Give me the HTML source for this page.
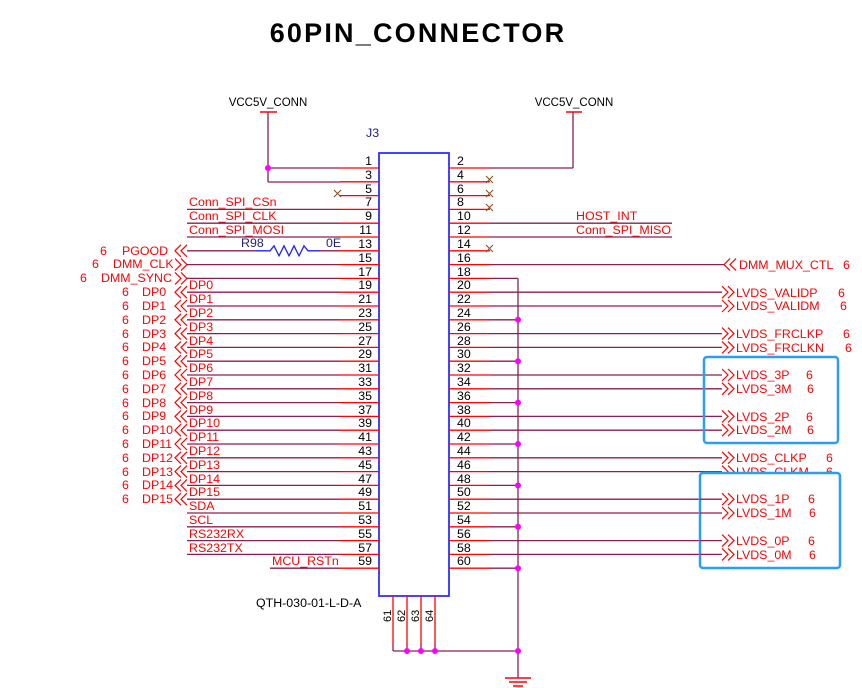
<!DOCTYPE html>
<html><head><meta charset="utf-8"><style>
html,body{margin:0;padding:0;background:#fff;}
svg{display:block;font-family:"Liberation Sans",Arial,sans-serif;}
.r{fill:#ff0000;font-size:12.4px;}
.k{fill:#000;font-size:12.4px;}
.w{stroke:#8a2050;stroke-width:1.3;fill:none;}
.p{stroke:#ff0000;stroke-width:1.3;fill:none;}
.c{stroke:#ff0000;stroke-width:1.2;fill:none;}
.x{stroke:#8a4a20;stroke-width:1;}
.d{fill:#ff00ff;}
</style></head><body>
<svg width="862" height="688" viewBox="0 0 862 688">
<text x="418" y="42" text-anchor="middle" style="font-size:27px;font-weight:bold;letter-spacing:2.2px" fill="#000">60PIN_CONNECTOR</text>

<!-- VCC left -->
<text x="268" y="106" text-anchor="middle" class="k" style="font-size:11.5px">VCC5V_CONN</text>
<line x1="260" y1="112" x2="277" y2="112" stroke="#ff0000" stroke-width="1.5"/>
<line x1="268" y1="112" x2="268" y2="182" class="w"/>
<line x1="268" y1="182" x2="340" y2="182" class="w"/>
<line x1="268" y1="168" x2="340" y2="168" class="w"/>
<circle cx="268" cy="168" r="3" class="d"/>
<!-- VCC right -->
<text x="574" y="106" text-anchor="middle" class="k" style="font-size:11.5px">VCC5V_CONN</text>
<line x1="566" y1="112" x2="582" y2="112" stroke="#ff0000" stroke-width="1.5"/>
<line x1="573" y1="112" x2="573" y2="168" class="w"/>
<line x1="490" y1="168" x2="573" y2="168" class="w"/>

<text x="366" y="137" class="k" style="fill:#202080">J3</text>
<rect x="379" y="153" width="70" height="443" fill="none" stroke="#3030ff" stroke-width="1.8"/>

<!-- pin stubs -->
<g class="p">
<path d="M340 168H379M340 181.8H379M340 195.6H379M340 209.4H379M340 223.2H379M340 237H379M340 250.8H379M340 264.6H379M340 278.4H379M340 292.2H379M340 306H379M340 319.8H379M340 333.6H379M340 347.4H379M340 361.2H379M340 375H379M340 388.8H379M340 402.6H379M340 416.4H379M340 430.2H379M340 444H379M340 457.8H379M340 471.6H379M340 485.4H379M340 499.2H379M340 513H379M340 526.8H379M340 540.6H379M340 554.4H379M340 568.2H379"/>
<path d="M449 168H490M449 181.8H490M449 195.6H490M449 209.4H490M449 223.2H490M449 237H490M449 250.8H490M449 264.6H490M449 278.4H490M449 292.2H490M449 306H490M449 319.8H490M449 333.6H490M449 347.4H490M449 361.2H490M449 375H490M449 388.8H490M449 402.6H490M449 416.4H490M449 430.2H490M449 444H490M449 457.8H490M449 471.6H490M449 485.4H490M449 499.2H490M449 513H490M449 526.8H490M449 540.6H490M449 554.4H490M449 568.2H490"/>
</g>
<g class="k" text-anchor="end">
<text x="372" y="165">1</text><text x="372" y="179">3</text><text x="372" y="193">5</text><text x="372" y="206">7</text><text x="372" y="220">9</text><text x="372" y="234">11</text><text x="372" y="248">13</text><text x="372" y="262">15</text><text x="372" y="276">17</text><text x="372" y="289">19</text><text x="372" y="303">21</text><text x="372" y="317">23</text><text x="372" y="331">25</text><text x="372" y="345">27</text><text x="372" y="358">29</text><text x="372" y="372">31</text><text x="372" y="386">33</text><text x="372" y="400">35</text><text x="372" y="414">37</text><text x="372" y="427">39</text><text x="372" y="441">41</text><text x="372" y="455">43</text><text x="372" y="469">45</text><text x="372" y="483">47</text><text x="372" y="496">49</text><text x="372" y="510">51</text><text x="372" y="524">53</text><text x="372" y="538">55</text><text x="372" y="552">57</text><text x="372" y="565">59</text>
</g>
<g class="k">
<text x="457" y="165">2</text><text x="457" y="179">4</text><text x="457" y="193">6</text><text x="457" y="206">8</text><text x="457" y="220">10</text><text x="457" y="234">12</text><text x="457" y="248">14</text><text x="457" y="262">16</text><text x="457" y="276">18</text><text x="457" y="289">20</text><text x="457" y="303">22</text><text x="457" y="317">24</text><text x="457" y="331">26</text><text x="457" y="345">28</text><text x="457" y="358">30</text><text x="457" y="372">32</text><text x="457" y="386">34</text><text x="457" y="400">36</text><text x="457" y="414">38</text><text x="457" y="427">40</text><text x="457" y="441">42</text><text x="457" y="455">44</text><text x="457" y="469">46</text><text x="457" y="483">48</text><text x="457" y="496">50</text><text x="457" y="510">52</text><text x="457" y="524">54</text><text x="457" y="538">56</text><text x="457" y="552">58</text><text x="457" y="565">60</text>
</g>

<g class="x">
<path d="M334 190l7 7M341 190l-7 7"/>
<path d="M486 176l7 7M493 176l-7 7M486 190l7 7M493 190l-7 7M486 204l7 7M493 204l-7 7M486 245l7 7M493 245l-7 7"/>
</g>

<g class="w">
<path d="M187 209.4H340M187 223.2H340M187 237H340"/>
<path d="M187 250.8H256M320 250.8H340M187 264.6H340M187 278.4H340"/>
<path d="M187 292.2H340M187 306H340M187 319.8H340M187 333.6H340M187 347.4H340M187 361.2H340M187 375H340M187 388.8H340M187 402.6H340M187 416.4H340M187 430.2H340M187 444H340M187 457.8H340M187 471.6H340M187 485.4H340M187 499.2H340M187 513H340M187 526.8H340M187 540.6H340M187 554.4H340M270 568.2H340"/>
</g>
<path d="M256 250.8H270l4 -5 5 10 5 -10 5 10 5 -10 5 10 5 -10 4 5H320" stroke="#2020ff" stroke-width="1.3" fill="none"/>
<text x="241" y="247" class="k" style="fill:#202080">R98</text>
<text x="326" y="247" class="k" style="fill:#202080">0E</text>

<g class="r">
<text x="189" y="206">Conn_SPI_CSn</text><text x="189" y="220">Conn_SPI_CLK</text><text x="189" y="234">Conn_SPI_MOSI</text>
<text x="100" y="255">6</text><text x="122" y="255">PGOOD</text>
<text x="92" y="268">6</text><text x="113" y="268">DMM_CLK</text>
<text x="80" y="282">6</text><text x="101" y="282">DMM_SYNC</text>
<text x="189" y="289">DP0</text><text x="189" y="303">DP1</text><text x="189" y="317">DP2</text><text x="189" y="331">DP3</text><text x="189" y="345">DP4</text><text x="189" y="358">DP5</text><text x="189" y="372">DP6</text><text x="189" y="386">DP7</text><text x="189" y="400">DP8</text><text x="189" y="414">DP9</text><text x="189" y="427">DP10</text><text x="189" y="441">DP11</text><text x="189" y="455">DP12</text><text x="189" y="469">DP13</text><text x="189" y="483">DP14</text><text x="189" y="496">DP15</text>
<text x="189" y="510">SDA</text><text x="189" y="524">SCL</text><text x="189" y="538">RS232RX</text><text x="189" y="552">RS232TX</text><text x="272" y="565">MCU_RSTn</text>
</g>
<g class="r">
<text x="122" y="296">6</text><text x="142" y="296">DP0</text>
<text x="122" y="310">6</text><text x="142" y="310">DP1</text>
<text x="122" y="324">6</text><text x="142" y="324">DP2</text>
<text x="122" y="338">6</text><text x="142" y="338">DP3</text>
<text x="122" y="351">6</text><text x="142" y="351">DP4</text>
<text x="122" y="365">6</text><text x="142" y="365">DP5</text>
<text x="122" y="379">6</text><text x="142" y="379">DP6</text>
<text x="122" y="393">6</text><text x="142" y="393">DP7</text>
<text x="122" y="407">6</text><text x="142" y="407">DP8</text>
<text x="122" y="420">6</text><text x="142" y="420">DP9</text>
<text x="122" y="434">6</text><text x="142" y="434">DP10</text>
<text x="122" y="448">6</text><text x="142" y="448">DP11</text>
<text x="122" y="462">6</text><text x="142" y="462">DP12</text>
<text x="122" y="476">6</text><text x="142" y="476">DP13</text>
<text x="122" y="489">6</text><text x="142" y="489">DP14</text>
<text x="122" y="503">6</text><text x="142" y="503">DP15</text>
</g>
<g class="c">
<path d="M181 244.8l-6 6 6 6M187 244.8l-6 6 6 6"/>
<path d="M175 258.6l6 6-6 6M181 258.6l6 6-6 6"/>
<path d="M175 272.4l6 6-6 6M181 272.4l6 6-6 6"/>
<path d="M181 286.2l-6 6 6 6M187 286.2l-6 6 6 6M181 300l-6 6 6 6M187 300l-6 6 6 6M181 313.8l-6 6 6 6M187 313.8l-6 6 6 6M181 327.6l-6 6 6 6M187 327.6l-6 6 6 6M181 341.4l-6 6 6 6M187 341.4l-6 6 6 6M181 355.2l-6 6 6 6M187 355.2l-6 6 6 6M181 369l-6 6 6 6M187 369l-6 6 6 6M181 382.8l-6 6 6 6M187 382.8l-6 6 6 6"/>
<path d="M181 396.6l-6 6 6 6M187 396.6l-6 6 6 6M181 410.4l-6 6 6 6M187 410.4l-6 6 6 6M181 424.2l-6 6 6 6M187 424.2l-6 6 6 6M181 438l-6 6 6 6M187 438l-6 6 6 6M181 451.8l-6 6 6 6M187 451.8l-6 6 6 6M181 465.6l-6 6 6 6M187 465.6l-6 6 6 6M181 479.4l-6 6 6 6M187 479.4l-6 6 6 6M181 493.2l-6 6 6 6M187 493.2l-6 6 6 6"/>
</g>

<g class="w">
<path d="M490 223.2H672M490 237H672M490 264.6H725M490 278.4H518"/>
<path d="M490 292.2H722M490 306H722M490 319.8H518M490 333.6H722M490 347.4H722M490 361.2H518M490 375H722M490 388.8H722M490 402.6H518M490 416.4H722M490 430.2H722M490 444H518M490 457.8H722M490 471.6H722M490 485.4H518M490 499.2H722M490 513H722M490 526.8H518M490 540.6H722M490 554.4H722M490 568.2H518"/>
<path d="M518 278.4V678"/>
<path d="M393 651H518"/>
</g>
<g class="p"><path d="M393 596V645M407 596V645M421 596V645M435 596V645"/></g>
<g class="w"><path d="M393 645V651M407 645V651M421 645V651M435 645V651"/></g>
<g stroke="#ff0000" stroke-width="1.5"><path d="M505 678H531M509 682H527M513 686H523"/></g>
<g class="d">
<circle cx="518" cy="319.8" r="3"/><circle cx="518" cy="361.2" r="3"/><circle cx="518" cy="402.6" r="3"/><circle cx="518" cy="444" r="3"/><circle cx="518" cy="485.4" r="3"/><circle cx="518" cy="526.8" r="3"/><circle cx="518" cy="568.2" r="3"/><circle cx="518" cy="651" r="3"/>
<circle cx="407" cy="651" r="3"/><circle cx="421" cy="651" r="3"/><circle cx="435" cy="651" r="3"/>
</g>
<g class="k" style="font-size:11px">
<text transform="translate(391,622) rotate(-90)">61</text>
<text transform="translate(405,622) rotate(-90)">62</text>
<text transform="translate(419,622) rotate(-90)">63</text>
<text transform="translate(433,622) rotate(-90)">64</text>
</g>
<text x="256" y="607" class="k">QTH-030-01-L-D-A</text>

<g class="r">
<text x="576" y="220">HOST_INT</text><text x="576" y="234">Conn_SPI_MISO</text>
<text x="739" y="269">DMM_MUX_CTL</text><text x="843" y="269">6</text>
<text x="736" y="297">LVDS_VALIDP</text><text x="838" y="297">6</text>
<text x="736" y="310">LVDS_VALIDM</text><text x="840" y="310">6</text>
<text x="736" y="338">LVDS_FRCLKP</text><text x="843" y="338">6</text>
<text x="736" y="352">LVDS_FRCLKN</text><text x="845" y="352">6</text>
</g>
<path d="M730 258.6l-6 6 6 6M736 258.6l-6 6 6 6" class="c"/>
<rect x="704" y="357" width="134" height="86" rx="3" fill="none" stroke="#2a9df4" stroke-width="2.5"/>
<g class="r">
<text x="736" y="379">LVDS_3P</text><text x="806" y="379">6</text>
<text x="736" y="393">LVDS_3M</text><text x="807" y="393">6</text>
<text x="736" y="421">LVDS_2P</text><text x="806" y="421">6</text>
<text x="736" y="434">LVDS_2M</text><text x="807" y="434">6</text>
<text x="736" y="462">LVDS_CLKP</text><text x="826" y="462">6</text>
<text x="736" y="476">LVDS_CLKM</text><text x="826" y="476">6</text>
</g>
<g class="c">
<path d="M722 286.2l6 6-6 6M728 286.2l6 6-6 6M722 300l6 6-6 6M728 300l6 6-6 6M722 327.6l6 6-6 6M728 327.6l6 6-6 6M722 341.4l6 6-6 6M728 341.4l6 6-6 6"/>
<path d="M722 369l6 6-6 6M728 369l6 6-6 6M722 382.8l6 6-6 6M728 382.8l6 6-6 6M722 410.4l6 6-6 6M728 410.4l6 6-6 6M722 424.2l6 6-6 6M728 424.2l6 6-6 6M722 451.8l6 6-6 6M728 451.8l6 6-6 6M722 465.6l6 6-6 6M728 465.6l6 6-6 6"/>
</g>
<rect x="700" y="473" width="140" height="95" rx="3" fill="#fff" stroke="#2a9df4" stroke-width="2.5"/>
<g class="r">
<text x="736" y="503">LVDS_1P</text><text x="808" y="503">6</text>
<text x="736" y="517">LVDS_1M</text><text x="809" y="517">6</text>
<text x="736" y="545">LVDS_0P</text><text x="808" y="545">6</text>
<text x="736" y="559">LVDS_0M</text><text x="809" y="559">6</text>
</g>
<g class="w"><path d="M700 499.2H722M700 513H722M700 540.6H722M700 554.4H722"/></g>
<g class="c">
<path d="M722 493.2l6 6-6 6M728 493.2l6 6-6 6M722 507l6 6-6 6M728 507l6 6-6 6M722 534.6l6 6-6 6M728 534.6l6 6-6 6M722 548.4l6 6-6 6M728 548.4l6 6-6 6"/>
</g>
</svg>
</body></html>
